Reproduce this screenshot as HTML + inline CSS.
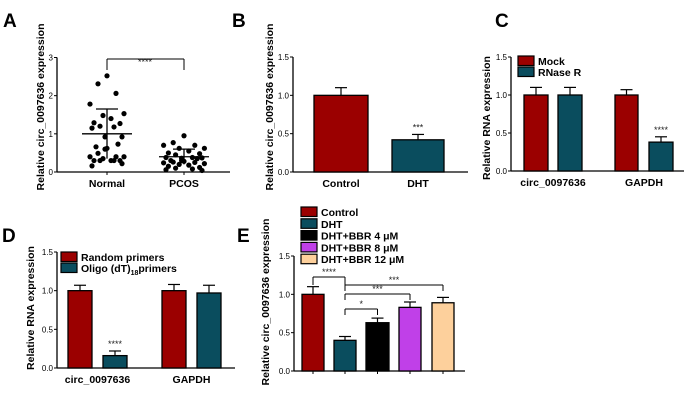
<!DOCTYPE html>
<html><head><meta charset="utf-8"><style>
html,body{margin:0;padding:0;background:#fff;width:685px;height:401px;overflow:hidden}
svg{display:block;font-family:"Liberation Sans",Arial,sans-serif}
</style></head><body>
<svg id="fig" width="685" height="401" viewBox="0 0 685 401"></svg>
<script>
// ---------- data ----------
const aNormal=[2.52,2.31,2.06,1.78,1.53,1.48,1.40,1.29,1.27,1.20,1.18,1.15,0.92,0.92,0.73,0.66,0.62,0.49,0.40,0.40,0.40,0.35,0.30,0.30,0.30,0.30,0.30,0.16,0.22,0.60];
const aPCOS=[0.95,0.77,0.70,0.70,0.62,0.62,0.55,0.50,0.48,0.45,0.38,0.38,0.37,0.36,0.35,0.30,0.28,0.26,0.25,0.24,0.22,0.20,0.18,0.15,0.12,0.10,0.08,0.06,0.04,0.30];
const aMean=[1.0,0.40];
const aSD=[0.65,0.20];
const aCats=["Normal","PCOS"];
const aTicks=[0,1,2,3];

const bCats=["Control","DHT"];
const bVals=[1.0,0.42];
const bErr=[0.10,0.07];

const cGroups=["circ_0097636","GAPDH"];
const cMock=[1.0,1.0];
const cMockErr=[0.10,0.07];
const cRnase=[1.0,0.38];
const cRnaseErr=[0.10,0.07];

const dGroups=["circ_0097636","GAPDH"];
const dRandom=[1.0,1.0];
const dRandomErr=[0.07,0.08];
const dOligo=[0.16,0.97];
const dOligoErr=[0.06,0.10];

const eCats=["Control","DHT","DHT+BBR 4 μM","DHT+BBR 8 μM","DHT+BBR 12 μM"];
const eVals=[1.0,0.40,0.63,0.83,0.89];
const eErr=[0.10,0.05,0.06,0.07,0.07];
const barTicks=[0,0.5,1.0,1.5];
const barTickLabels=["0.0","0.5","1.0","1.5"];

const RED="#9b0000",TEAL="#0a4d5e";
const eColors=[RED,TEAL,"#000000","#c040e8","#fdd09c"];
// ---------- helpers ----------
const svg=document.getElementById('fig');
const NS="http://www.w3.org/2000/svg";
function el(tag,attrs,parent){const e=document.createElementNS(NS,tag);for(const k in attrs)e.setAttribute(k,attrs[k]);(parent||svg).appendChild(e);return e;}
function txt(s,x,y,size,anchor,parent,extra){const t=el('text',Object.assign({x:x,y:y,'font-size':size,'font-weight':'bold','text-anchor':anchor||'middle',fill:'#000'},extra||{}),parent);t.textContent=s;return t;}
function lin(x1,y1,x2,y2,parent,w){return el('line',{x1:x1,y1:y1,x2:x2,y2:y2,stroke:'#000','stroke-width':w||1.2},parent);}
function yScale(y0,yTop,max){return v=>y0-(y0-yTop)*v/max;}
function axes(g,ax,axEnd,y,ticks,labels){
  lin(ax,y(0),axEnd,y(0),g,1.3);
  lin(ax,y(ticks[ticks.length-1]),ax,y(0),g,1.3);
  ticks.forEach((t,i)=>{lin(ax-3,y(t),ax,y(t),g,1);
    const l=txt(labels[i],ax-4,y(t)+3,8,'end',g,{'font-weight':'normal'});
    
    });
}
function ytitle(g,s,x,cy){const t=txt(s,x,cy,10.5,'middle',g,{transform:`rotate(-90 ${x} ${cy})`});}
function bar(g,x0,x1,y,v,err,color,name){
  const r=el('rect',{x:x0,y:y(v),width:x1-x0,height:y(0)-y(v),fill:color,stroke:'#000','stroke-width':1.3},g);
  
  
  const cx=(x0+x1)/2;lin(cx,y(v),cx,y(v+err),g);lin(cx-6,y(v+err),cx+6,y(v+err),g);
}
function panelLetter(s,x,y){const t=txt(s,x,y,19,'start');}
function legend(g,items,colors,x,y0,dy,name){return items.map((s,i)=>{const r=el('rect',{x:x,y:y0+i*dy,width:16,height:9.5,fill:colors[i],stroke:'#000','stroke-width':1.2},g);
  
  const t=txt(s,x+20,y0+i*dy+9,10.5,'start',g);return t;});}
function stars(g,s,x,y){const t=txt(s,x,y,9,'middle',g,{'font-weight':'normal',fill:'#222'});}

// ---------- Panel A ----------
panelLetter("A",3,27);
{const g=el('g',{});
 const y=yScale(172,57.5,3);const ax=57;
 axes(g,ax,230,y,aTicks,aTicks.map(String));
 ytitle(g,"Relative circ_0097636 expression",44,107);
 const xs=[107,184];
 const jit=[0,-9,9,-17,17,-4,4,-13,13,-7,7,-15,15,-2,11,-11];
 [aNormal,aPCOS].forEach((arr,gi)=>{arr.forEach((v,i)=>{const c=el('circle',{cx:xs[gi]+jit[i%jit.length]*(gi?1.2:1),cy:y(v),r:2.6,fill:'#000'},g);
   
   });
   const m=aMean[gi],s=aSD[gi];
   lin(xs[gi]-25,y(m),xs[gi]+25,y(m),g,1.3);lin(xs[gi],y(m-s),xs[gi],y(m+s),g,1.3);
   lin(xs[gi]-11,y(m+s),xs[gi]+11,y(m+s),g,1.3);
   lin(xs[gi],y(0),xs[gi],y(0)+3,g,1);
   const l=txt(aCats[gi],xs[gi],187,10.5,'middle',g);});
 lin(107,70,107,59,g,1);lin(107,59,184,59,g,1);lin(184,59,184,70,g,1);stars(g,"****",145,65);
}
// ---------- Panel B ----------
panelLetter("B",232,27);
{const g=el('g',{});
 const y=yScale(172,57,1.5);const ax=293;
 axes(g,ax,468,y,barTicks,barTickLabels);
 ytitle(g,"Relative circ_0097636 expression",273,107);
 const xs=[[314,368],[392,444]];
 bCats.forEach((c,i)=>{bar(g,xs[i][0],xs[i][1],y,bVals[i],bErr[i],i?TEAL:RED,'bar-'+c.toLowerCase());
   const l=txt(c,(xs[i][0]+xs[i][1])/2,187,10.5,'middle',g);});
 stars(g,"***",418,y(bVals[1]+bErr[1])-4);
}
// ---------- Panel C ----------
panelLetter("C",495,27);
{const g=el('g',{});
 const y=yScale(171,57,1.5);const ax=511;
 axes(g,ax,684,y,barTicks,barTickLabels);
 ytitle(g,"Relative RNA expression",490,118);
 const gx=[[524,548,558,582],[615,638,649,673]];
 cGroups.forEach((c,i)=>{bar(g,gx[i][0],gx[i][1],y,cMock[i],cMockErr[i],RED,'bar-mock-'+c.toLowerCase());
   bar(g,gx[i][2],gx[i][3],y,cRnase[i],cRnaseErr[i],TEAL,'bar-rnase-r-'+c.toLowerCase());
   const l=txt(c,(gx[i][0]+gx[i][3])/2,186,10.5,'middle',g);});
 stars(g,"****",661,y(cRnase[1]+cRnaseErr[1])-4);
 legend(g,["Mock","RNase R"],[RED,TEAL],518,56,11,'legend');
}
// ---------- Panel D ----------
panelLetter("D",2,242);
{const g=el('g',{});
 const y=yScale(368,252,1.5);const ax=57;
 axes(g,ax,235,y,barTicks,barTickLabels);
 ytitle(g,"Relative RNA expression",34,308);
 const gx=[[68,92,103,127],[162,186,197,221]];
 dGroups.forEach((c,i)=>{bar(g,gx[i][0],gx[i][1],y,dRandom[i],dRandomErr[i],RED,'bar-random-'+c.toLowerCase());
   bar(g,gx[i][2],gx[i][3],y,dOligo[i],dOligoErr[i],TEAL,'bar-oligo-'+c.toLowerCase());
   const l=txt(c,(gx[i][0]+gx[i][3])/2,383,10.5,'middle',g);});
 stars(g,"****",115,y(dOligo[0]+dOligoErr[0])-4);
 const ents=legend(g,["Random primers","Oligo (dT)"],[RED,TEAL],61,252,11,'legend');
 const s1=el('tspan',{'font-size':7,dy:3},ents[1]);s1.textContent="18";
 const s2=el('tspan',{dy:-3},ents[1]);s2.textContent="primers";
}
// ---------- Panel E ----------
panelLetter("E",237,242);
{const g=el('g',{});
 const y=yScale(371,256,1.5);const ax=294;
 axes(g,ax,465,y,barTicks,barTickLabels);
 ytitle(g,"Relative circ_0097636 expression",269,302);
 const xs=[[302,324],[334,356],[366,389],[399,421],[432,454]];
 const cx=xs.map(p=>(p[0]+p[1])/2);
 eCats.forEach((c,i)=>{bar(g,xs[i][0],xs[i][1],y,eVals[i],eErr[i],eColors[i],'bar-e-'+i);
   lin(cx[i],y(0),cx[i],y(0)+3,g,1);});
 function bracket(a,b,yy,drop,s){lin(cx[a],yy+drop,cx[a],yy,g,1);lin(cx[a],yy,cx[b],yy,g,1);lin(cx[b],yy,cx[b],yy+drop,g,1);stars(g,s,(cx[a]+cx[b])/2,yy-2);}
 bracket(0,1,277,8,"****");
 bracket(1,4,285,6,"***");
 bracket(1,3,294,6,"***");
 bracket(1,2,309,6,"*");
 legend(g,eCats,eColors,301,207,11.8,'legend');
}
</script>
</body></html>
